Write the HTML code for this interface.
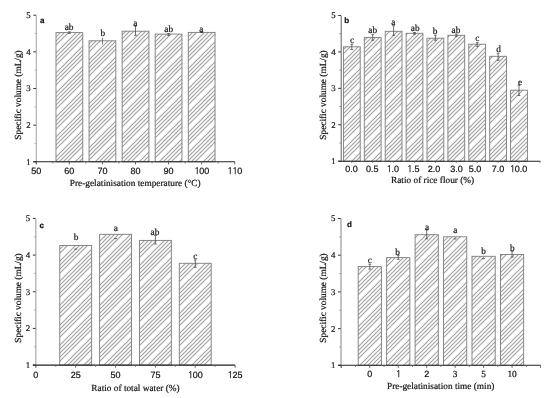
<!DOCTYPE html>
<html><head><meta charset="utf-8"><title>Specific volume figure</title>
<style>
html,body{margin:0;padding:0;background:#fff;}
body{width:550px;height:398px;overflow:hidden;}
svg{display:block;}
text{text-rendering:geometricPrecision;stroke:#111;stroke-width:0.2px;}
.lt{font-family:"Liberation Serif", "Times New Roman", serif;font-size:9.3px;fill:#111;text-anchor:middle;}
.yl{font-family:"Liberation Serif", "Times New Roman", serif;font-size:8.8px;fill:#222;text-anchor:end;}
.xs{font-family:"Liberation Sans", Arial, sans-serif;font-size:9px;fill:#111;text-anchor:middle;}
.xr{font-family:"Liberation Serif", "Times New Roman", serif;font-size:9.3px;fill:#111;text-anchor:middle;}
.xt{font-family:"Liberation Serif", "Times New Roman", serif;font-size:9.3px;fill:#111;text-anchor:middle;}
.yt{font-family:"Liberation Serif", "Times New Roman", serif;font-size:9.3px;fill:#111;text-anchor:middle;}
.one{font-family:"NanumGothic", "Liberation Sans", sans-serif;letter-spacing:-0.45px;}
.pl{font-family:"Liberation Sans", Arial, sans-serif;font-size:8px;font-weight:bold;fill:#111;}
</style></head>
<body>
<svg width="550" height="398" viewBox="0 0 550 398">
<rect width="550" height="398" fill="#fff"/>
<clipPath id="clipa"><rect x="55.97" y="32.6" width="26.8" height="129.2"/><rect x="89.04" y="40.8" width="26.8" height="121"/><rect x="122.11" y="31.2" width="26.8" height="130.6"/><rect x="155.18" y="34.1" width="26.8" height="127.7"/><rect x="188.25" y="32.4" width="26.8" height="129.4"/></clipPath>
<g clip-path="url(#clipa)"><path d="M-77.8 162.8L54.8 30.2M-73.8 162.8L58.8 30.2M-69.8 162.8L62.8 30.2M-65.8 162.8L66.8 30.2M-61.8 162.8L70.8 30.2M-53.8 162.8L78.8 30.2M-49.8 162.8L82.8 30.2M-45.8 162.8L86.8 30.2M-41.8 162.8L90.8 30.2M-33.8 162.8L98.8 30.2M-29.8 162.8L102.8 30.2M-25.8 162.8L106.8 30.2M-21.8 162.8L110.8 30.2M-13.8 162.8L118.8 30.2M-9.8 162.8L122.8 30.2M-5.8 162.8L126.8 30.2M-1.8 162.8L130.8 30.2M2.2 162.8L134.8 30.2M10.2 162.8L142.8 30.2M14.2 162.8L146.8 30.2M18.2 162.8L150.8 30.2M22.2 162.8L154.8 30.2M30.2 162.8L162.8 30.2M34.2 162.8L166.8 30.2M38.2 162.8L170.8 30.2M42.2 162.8L174.8 30.2M50.2 162.8L182.8 30.2M54.2 162.8L186.8 30.2M58.2 162.8L190.8 30.2M62.2 162.8L194.8 30.2M66.2 162.8L198.8 30.2M74.2 162.8L206.8 30.2M78.2 162.8L210.8 30.2M82.2 162.8L214.8 30.2M86.2 162.8L218.8 30.2M94.2 162.8L226.8 30.2M98.2 162.8L230.8 30.2M102.2 162.8L234.8 30.2M106.2 162.8L238.8 30.2M114.2 162.8L246.8 30.2M118.2 162.8L250.8 30.2M122.2 162.8L254.8 30.2M126.2 162.8L258.8 30.2M130.2 162.8L262.8 30.2M138.2 162.8L270.8 30.2M142.2 162.8L274.8 30.2M146.2 162.8L278.8 30.2M150.2 162.8L282.8 30.2M158.2 162.8L290.8 30.2M162.2 162.8L294.8 30.2M166.2 162.8L298.8 30.2M170.2 162.8L302.8 30.2M178.2 162.8L310.8 30.2M182.2 162.8L314.8 30.2M186.2 162.8L318.8 30.2M190.2 162.8L322.8 30.2M194.2 162.8L326.8 30.2M202.2 162.8L334.8 30.2M206.2 162.8L338.8 30.2M210.2 162.8L342.8 30.2M214.2 162.8L346.8 30.2" stroke="#a0a0a0" stroke-width="1.1" fill="none"/></g>
<rect x="55.97" y="32.6" width="26.8" height="129.2" fill="none" stroke="#7c7c7c" stroke-width="0.9"/>
<rect x="89.04" y="40.8" width="26.8" height="121" fill="none" stroke="#7c7c7c" stroke-width="0.9"/>
<rect x="122.11" y="31.2" width="26.8" height="130.6" fill="none" stroke="#7c7c7c" stroke-width="0.9"/>
<rect x="155.18" y="34.1" width="26.8" height="127.7" fill="none" stroke="#7c7c7c" stroke-width="0.9"/>
<rect x="188.25" y="32.4" width="26.8" height="129.4" fill="none" stroke="#7c7c7c" stroke-width="0.9"/>
<path d="M69.37 31.8V33.4M67.97 31.8H70.77M67.97 33.4H70.77" stroke="#444" stroke-width="0.75" fill="none"/>
<text x="69.1" y="30.2" class="lt">ab</text>
<path d="M102.44 37.9V44.5" stroke="#444" stroke-width="0.75" fill="none"/>
<text x="102.75" y="36.3" class="lt">b</text>
<path d="M135.51 26V35.3M134.11 26H136.91M134.11 35.3H136.91" stroke="#444" stroke-width="0.75" fill="none"/>
<text x="135.25" y="26.1" class="lt">a</text>
<path d="M168.58 33.6V35.4M167.18 33.6H169.98M167.18 35.4H169.98" stroke="#444" stroke-width="0.75" fill="none"/>
<text x="168.75" y="31.5" class="lt">ab</text>
<path d="M200.25 32.5H203.05" stroke="#444" stroke-width="0.9" fill="none"/>
<text x="201.2" y="32.2" class="lt">a</text>
<path d="M36.3 15.2V164.3" stroke="#a8a8a8" stroke-width="1.1" fill="none"/>
<path d="M33.3 161.8H36" stroke="#333" stroke-width="1"/>
<text x="30.7" y="164.7" class="yl">1</text>
<path d="M33.3 125.15H36" stroke="#333" stroke-width="1"/>
<text x="30.7" y="128.05" class="yl">2</text>
<path d="M33.3 88.5H36" stroke="#333" stroke-width="1"/>
<text x="30.7" y="91.4" class="yl">3</text>
<path d="M33.3 51.85H36" stroke="#333" stroke-width="1"/>
<text x="30.7" y="54.75" class="yl">4</text>
<path d="M33.3 15.2H36" stroke="#333" stroke-width="1"/>
<text x="30.7" y="18.1" class="yl">5</text>
<path d="M34.5 143.48H36.3" stroke="#a8a8a8" stroke-width="0.8"/>
<path d="M34.5 106.83H36.3" stroke="#a8a8a8" stroke-width="0.8"/>
<path d="M34.5 70.17H36.3" stroke="#a8a8a8" stroke-width="0.8"/>
<path d="M34.5 33.52H36.3" stroke="#a8a8a8" stroke-width="0.8"/>
<path d="M33.3 161.8H234.72" stroke="#222" stroke-width="1.1" fill="none"/>
<path d="M36.3 161.8V164.4" stroke="#555" stroke-width="0.9"/>
<path d="M52.83 161.8V163.4" stroke="#555" stroke-width="0.9"/>
<path d="M69.37 161.8V164.4" stroke="#555" stroke-width="0.9"/>
<path d="M85.91 161.8V163.4" stroke="#555" stroke-width="0.9"/>
<path d="M102.44 161.8V164.4" stroke="#555" stroke-width="0.9"/>
<path d="M118.97 161.8V163.4" stroke="#555" stroke-width="0.9"/>
<path d="M135.51 161.8V164.4" stroke="#555" stroke-width="0.9"/>
<path d="M152.05 161.8V163.4" stroke="#555" stroke-width="0.9"/>
<path d="M168.58 161.8V164.4" stroke="#555" stroke-width="0.9"/>
<path d="M185.12 161.8V163.4" stroke="#555" stroke-width="0.9"/>
<path d="M201.65 161.8V164.4" stroke="#555" stroke-width="0.9"/>
<path d="M218.19 161.8V163.4" stroke="#555" stroke-width="0.9"/>
<path d="M234.72 161.8V164.4" stroke="#555" stroke-width="0.9"/>
<text x="36.3" y="174" class="xs">50</text>
<text x="69.37" y="174" class="xs">60</text>
<text x="102.44" y="174" class="xs">70</text>
<text x="135.51" y="174" class="xs">80</text>
<text x="168.58" y="174" class="xs">90</text>
<text x="201.65" y="174" class="xs"><tspan class="one">1</tspan>00</text>
<text x="234.72" y="174" class="xs"><tspan class="one">1</tspan><tspan class="one">1</tspan>0</text>
<text x="135.2" y="185.9" class="xt">Pre-gelatinisation temperature (°C)</text>
<text transform="translate(21.1 95) rotate(-90)" class="yt">Specific volume (mL/g)</text>
<text x="40" y="23" class="pl">a</text>
<clipPath id="clipb"><rect x="343.4" y="46.8" width="16.8" height="114.4"/><rect x="364.3" y="37.4" width="16.8" height="123.8"/><rect x="385.2" y="31.3" width="16.8" height="129.9"/><rect x="406.1" y="33.3" width="16.8" height="127.9"/><rect x="427" y="38.2" width="16.8" height="123"/><rect x="447.9" y="35.3" width="16.8" height="125.9"/><rect x="468.8" y="44.2" width="16.8" height="117"/><rect x="489.7" y="56.3" width="16.8" height="104.9"/><rect x="510.6" y="90.2" width="16.8" height="71"/></clipPath>
<g clip-path="url(#clipb)"><path d="M206.8 162.2L338.7 30.3M210.8 162.2L342.7 30.3M214.8 162.2L346.7 30.3M222.8 162.2L354.7 30.3M226.8 162.2L358.7 30.3M230.8 162.2L362.7 30.3M234.8 162.2L366.7 30.3M242.8 162.2L374.7 30.3M246.8 162.2L378.7 30.3M250.8 162.2L382.7 30.3M254.8 162.2L386.7 30.3M258.8 162.2L390.7 30.3M266.8 162.2L398.7 30.3M270.8 162.2L402.7 30.3M274.8 162.2L406.7 30.3M278.8 162.2L410.7 30.3M286.8 162.2L418.7 30.3M290.8 162.2L422.7 30.3M294.8 162.2L426.7 30.3M298.8 162.2L430.7 30.3M306.8 162.2L438.7 30.3M310.8 162.2L442.7 30.3M314.8 162.2L446.7 30.3M318.8 162.2L450.7 30.3M322.8 162.2L454.7 30.3M330.8 162.2L462.7 30.3M334.8 162.2L466.7 30.3M338.8 162.2L470.7 30.3M342.8 162.2L474.7 30.3M350.8 162.2L482.7 30.3M354.8 162.2L486.7 30.3M358.8 162.2L490.7 30.3M362.8 162.2L494.7 30.3M370.8 162.2L502.7 30.3M374.8 162.2L506.7 30.3M378.8 162.2L510.7 30.3M382.8 162.2L514.7 30.3M386.8 162.2L518.7 30.3M394.8 162.2L526.7 30.3M398.8 162.2L530.7 30.3M402.8 162.2L534.7 30.3M406.8 162.2L538.7 30.3M414.8 162.2L546.7 30.3M418.8 162.2L550.7 30.3M422.8 162.2L554.7 30.3M426.8 162.2L558.7 30.3M434.8 162.2L566.7 30.3M438.8 162.2L570.7 30.3M442.8 162.2L574.7 30.3M446.8 162.2L578.7 30.3M450.8 162.2L582.7 30.3M458.8 162.2L590.7 30.3M462.8 162.2L594.7 30.3M466.8 162.2L598.7 30.3M470.8 162.2L602.7 30.3M478.8 162.2L610.7 30.3M482.8 162.2L614.7 30.3M486.8 162.2L618.7 30.3M490.8 162.2L622.7 30.3M498.8 162.2L630.7 30.3M502.8 162.2L634.7 30.3M506.8 162.2L638.7 30.3M510.8 162.2L642.7 30.3M514.8 162.2L646.7 30.3M522.8 162.2L654.7 30.3M526.8 162.2L658.7 30.3M530.8 162.2L662.7 30.3" stroke="#a0a0a0" stroke-width="1.1" fill="none"/></g>
<rect x="343.4" y="46.8" width="16.8" height="114.4" fill="none" stroke="#7c7c7c" stroke-width="0.9"/>
<rect x="364.3" y="37.4" width="16.8" height="123.8" fill="none" stroke="#7c7c7c" stroke-width="0.9"/>
<rect x="385.2" y="31.3" width="16.8" height="129.9" fill="none" stroke="#7c7c7c" stroke-width="0.9"/>
<rect x="406.1" y="33.3" width="16.8" height="127.9" fill="none" stroke="#7c7c7c" stroke-width="0.9"/>
<rect x="427" y="38.2" width="16.8" height="123" fill="none" stroke="#7c7c7c" stroke-width="0.9"/>
<rect x="447.9" y="35.3" width="16.8" height="125.9" fill="none" stroke="#7c7c7c" stroke-width="0.9"/>
<rect x="468.8" y="44.2" width="16.8" height="117" fill="none" stroke="#7c7c7c" stroke-width="0.9"/>
<rect x="489.7" y="56.3" width="16.8" height="104.9" fill="none" stroke="#7c7c7c" stroke-width="0.9"/>
<rect x="510.6" y="90.2" width="16.8" height="71" fill="none" stroke="#7c7c7c" stroke-width="0.9"/>
<path d="M351.8 44.3V49.4M350.4 44.3H353.2M350.4 49.4H353.2" stroke="#444" stroke-width="0.75" fill="none"/>
<text x="352" y="42.5" class="lt">c</text>
<path d="M372.7 34.3V40.2M371.3 34.3H374.1M371.3 40.2H374.1" stroke="#444" stroke-width="0.75" fill="none"/>
<text x="372.65" y="32.9" class="lt">ab</text>
<path d="M393.6 25.8V35.4M392.2 25.8H395M392.2 35.4H395" stroke="#444" stroke-width="0.75" fill="none"/>
<text x="393.4" y="25.3" class="lt">a</text>
<path d="M414.5 32.5V34.2M413.1 32.5H415.9M413.1 34.2H415.9" stroke="#444" stroke-width="0.75" fill="none"/>
<text x="415.2" y="30.5" class="lt">ab</text>
<path d="M435.4 35.3V40.2M434 35.3H436.8M434 40.2H436.8" stroke="#444" stroke-width="0.75" fill="none"/>
<text x="435.1" y="33.7" class="lt">b</text>
<path d="M456.3 34V36.3M454.9 34H457.7M454.9 36.3H457.7" stroke="#444" stroke-width="0.75" fill="none"/>
<text x="456" y="32.7" class="lt">ab</text>
<path d="M477.2 42.6V46.4M475.8 42.6H478.6M475.8 46.4H478.6" stroke="#444" stroke-width="0.75" fill="none"/>
<text x="477.35" y="40.8" class="lt">c</text>
<path d="M498.1 53.3V60.3M496.7 53.3H499.5M496.7 60.3H499.5" stroke="#444" stroke-width="0.75" fill="none"/>
<text x="498.5" y="52.3" class="lt">d</text>
<path d="M519 85V95.5M517.6 85H520.4M517.6 95.5H520.4" stroke="#444" stroke-width="0.75" fill="none"/>
<text x="520.1" y="84.6" class="lt">e</text>
<path d="M341.2 15.5V161.7" stroke="#707070" stroke-width="1.1" fill="none"/>
<path d="M338.2 161.2H340.9" stroke="#333" stroke-width="1"/>
<text x="335.6" y="164.1" class="yl">1</text>
<path d="M338.2 124.77H340.9" stroke="#333" stroke-width="1"/>
<text x="335.6" y="127.67" class="yl">2</text>
<path d="M338.2 88.35H340.9" stroke="#333" stroke-width="1"/>
<text x="335.6" y="91.25" class="yl">3</text>
<path d="M338.2 51.92H340.9" stroke="#333" stroke-width="1"/>
<text x="335.6" y="54.82" class="yl">4</text>
<path d="M338.2 15.5H340.9" stroke="#333" stroke-width="1"/>
<text x="335.6" y="18.4" class="yl">5</text>
<path d="M339.4 142.99H341.2" stroke="#707070" stroke-width="0.8"/>
<path d="M339.4 106.56H341.2" stroke="#707070" stroke-width="0.8"/>
<path d="M339.4 70.14H341.2" stroke="#707070" stroke-width="0.8"/>
<path d="M339.4 33.71H341.2" stroke="#707070" stroke-width="0.8"/>
<path d="M338.2 161.2H540.2" stroke="#222" stroke-width="1.1" fill="none"/>
<path d="M351.8 161.2V162.8" stroke="#555" stroke-width="0.9"/>
<path d="M372.7 161.2V162.8" stroke="#555" stroke-width="0.9"/>
<path d="M393.6 161.2V162.8" stroke="#555" stroke-width="0.9"/>
<path d="M414.5 161.2V162.8" stroke="#555" stroke-width="0.9"/>
<path d="M435.4 161.2V162.8" stroke="#555" stroke-width="0.9"/>
<path d="M456.3 161.2V162.8" stroke="#555" stroke-width="0.9"/>
<path d="M477.2 161.2V162.8" stroke="#555" stroke-width="0.9"/>
<path d="M498.1 161.2V162.8" stroke="#555" stroke-width="0.9"/>
<path d="M519 161.2V162.8" stroke="#555" stroke-width="0.9"/>
<path d="M540 161.2V162.8" stroke="#555" stroke-width="0.9"/>
<text x="351.4" y="172.3" class="xs">0.0</text>
<text x="372.3" y="172.3" class="xs">0.5</text>
<text x="392.7" y="172.3" class="xs"><tspan class="one">1</tspan>.0</text>
<text x="413.2" y="172.3" class="xs"><tspan class="one">1</tspan>.5</text>
<text x="434.1" y="172.3" class="xs">2.0</text>
<text x="456.5" y="172.3" class="xs">3.0</text>
<text x="475.1" y="172.3" class="xs">5.0</text>
<text x="498" y="172.3" class="xs">7.0</text>
<text x="518.5" y="172.3" class="xs"><tspan class="one">1</tspan>0.0</text>
<text x="432.6" y="182.6" class="xt">Ratio of rice flour (%)</text>
<text transform="translate(326 95) rotate(-90)" class="yt">Specific volume (mL/g)</text>
<text x="344.2" y="22.6" class="pl">b</text>
<clipPath id="clipc"><rect x="59.76" y="245.5" width="31.88" height="119.6"/><rect x="99.61" y="234.3" width="31.88" height="130.8"/><rect x="139.46" y="240.4" width="31.88" height="124.7"/><rect x="179.31" y="263.3" width="31.88" height="101.8"/></clipPath>
<g clip-path="url(#clipc)"><path d="M-77.1 366.1L55.7 233.3M-73.1 366.1L59.7 233.3M-65.1 366.1L67.7 233.3M-61.1 366.1L71.7 233.3M-57.1 366.1L75.7 233.3M-53.1 366.1L79.7 233.3M-45.1 366.1L87.7 233.3M-41.1 366.1L91.7 233.3M-37.1 366.1L95.7 233.3M-33.1 366.1L99.7 233.3M-25.1 366.1L107.7 233.3M-21.1 366.1L111.7 233.3M-17.1 366.1L115.7 233.3M-13.1 366.1L119.7 233.3M-9.1 366.1L123.7 233.3M-1.1 366.1L131.7 233.3M2.9 366.1L135.7 233.3M6.9 366.1L139.7 233.3M10.9 366.1L143.7 233.3M18.9 366.1L151.7 233.3M22.9 366.1L155.7 233.3M26.9 366.1L159.7 233.3M30.9 366.1L163.7 233.3M38.9 366.1L171.7 233.3M42.9 366.1L175.7 233.3M46.9 366.1L179.7 233.3M50.9 366.1L183.7 233.3M54.9 366.1L187.7 233.3M62.9 366.1L195.7 233.3M66.9 366.1L199.7 233.3M70.9 366.1L203.7 233.3M74.9 366.1L207.7 233.3M82.9 366.1L215.7 233.3M86.9 366.1L219.7 233.3M90.9 366.1L223.7 233.3M94.9 366.1L227.7 233.3M102.9 366.1L235.7 233.3M106.9 366.1L239.7 233.3M110.9 366.1L243.7 233.3M114.9 366.1L247.7 233.3M118.9 366.1L251.7 233.3M126.9 366.1L259.7 233.3M130.9 366.1L263.7 233.3M134.9 366.1L267.7 233.3M138.9 366.1L271.7 233.3M146.9 366.1L279.7 233.3M150.9 366.1L283.7 233.3M154.9 366.1L287.7 233.3M158.9 366.1L291.7 233.3M166.9 366.1L299.7 233.3M170.9 366.1L303.7 233.3M174.9 366.1L307.7 233.3M178.9 366.1L311.7 233.3M182.9 366.1L315.7 233.3M190.9 366.1L323.7 233.3M194.9 366.1L327.7 233.3M198.9 366.1L331.7 233.3M202.9 366.1L335.7 233.3M210.9 366.1L343.7 233.3M214.9 366.1L347.7 233.3" stroke="#a0a0a0" stroke-width="1.1" fill="none"/></g>
<rect x="59.76" y="245.5" width="31.88" height="119.6" fill="none" stroke="#7c7c7c" stroke-width="0.9"/>
<rect x="99.61" y="234.3" width="31.88" height="130.8" fill="none" stroke="#7c7c7c" stroke-width="0.9"/>
<rect x="139.46" y="240.4" width="31.88" height="124.7" fill="none" stroke="#7c7c7c" stroke-width="0.9"/>
<rect x="179.31" y="263.3" width="31.88" height="101.8" fill="none" stroke="#7c7c7c" stroke-width="0.9"/>
<path d="M74.3 249.1H77.1" stroke="#444" stroke-width="0.9" fill="none"/>
<text x="76.1" y="240.4" class="lt">b</text>
<path d="M114.15 238.6H116.95" stroke="#444" stroke-width="0.9" fill="none"/>
<text x="115.7" y="230.5" class="lt">a</text>
<path d="M155.4 235.3V244M154 235.3H156.8M154 244H156.8" stroke="#444" stroke-width="0.75" fill="none"/>
<text x="155" y="235.3" class="lt">ab</text>
<path d="M195.25 260V267.3M193.85 260H196.65M193.85 267.3H196.65" stroke="#444" stroke-width="0.75" fill="none"/>
<text x="195.25" y="259" class="lt">c</text>
<path d="M35.85 218.4V367.6" stroke="#a0a0a0" stroke-width="1.1" fill="none"/>
<path d="M32.85 365.1H35.55" stroke="#333" stroke-width="1"/>
<text x="30.25" y="368" class="yl">1</text>
<path d="M32.85 328.43H35.55" stroke="#333" stroke-width="1"/>
<text x="30.25" y="331.32" class="yl">2</text>
<path d="M32.85 291.75H35.55" stroke="#333" stroke-width="1"/>
<text x="30.25" y="294.65" class="yl">3</text>
<path d="M32.85 255.08H35.55" stroke="#333" stroke-width="1"/>
<text x="30.25" y="257.98" class="yl">4</text>
<path d="M32.85 218.4H35.55" stroke="#333" stroke-width="1"/>
<text x="30.25" y="221.3" class="yl">5</text>
<path d="M34.05 346.76H35.85" stroke="#a0a0a0" stroke-width="0.8"/>
<path d="M34.05 310.09H35.85" stroke="#a0a0a0" stroke-width="0.8"/>
<path d="M34.05 273.41H35.85" stroke="#a0a0a0" stroke-width="0.8"/>
<path d="M34.05 236.74H35.85" stroke="#a0a0a0" stroke-width="0.8"/>
<path d="M32.85 365.1H235.1" stroke="#222" stroke-width="1.1" fill="none"/>
<path d="M35.85 365.1V367.7" stroke="#555" stroke-width="0.9"/>
<path d="M55.78 365.1V366.7" stroke="#555" stroke-width="0.9"/>
<path d="M75.7 365.1V367.7" stroke="#555" stroke-width="0.9"/>
<path d="M95.62 365.1V366.7" stroke="#555" stroke-width="0.9"/>
<path d="M115.55 365.1V367.7" stroke="#555" stroke-width="0.9"/>
<path d="M135.47 365.1V366.7" stroke="#555" stroke-width="0.9"/>
<path d="M155.4 365.1V367.7" stroke="#555" stroke-width="0.9"/>
<path d="M175.32 365.1V366.7" stroke="#555" stroke-width="0.9"/>
<path d="M195.25 365.1V367.7" stroke="#555" stroke-width="0.9"/>
<path d="M215.18 365.1V366.7" stroke="#555" stroke-width="0.9"/>
<path d="M235.1 365.1V367.7" stroke="#555" stroke-width="0.9"/>
<text x="35.85" y="377.5" class="xs">0</text>
<text x="75.7" y="377.5" class="xs">25</text>
<text x="115.55" y="377.5" class="xs">50</text>
<text x="155.4" y="377.5" class="xs">75</text>
<text x="195.25" y="377.5" class="xs"><tspan class="one">1</tspan>00</text>
<text x="235.1" y="377.5" class="xs"><tspan class="one">1</tspan>25</text>
<text x="135.5" y="390.6" class="xt">Ratio of total water (%)</text>
<text transform="translate(20.9 298) rotate(-90)" class="yt">Specific volume (mL/g)</text>
<text x="39.6" y="228.3" class="pl">c</text>
<clipPath id="clipd"><rect x="358.2" y="266.6" width="23.2" height="98.7"/><rect x="386.65" y="257.6" width="23.2" height="107.7"/><rect x="415.1" y="234.7" width="23.2" height="130.6"/><rect x="443.55" y="236.8" width="23.2" height="128.5"/><rect x="472" y="256.3" width="23.2" height="109"/><rect x="500.45" y="254.5" width="23.2" height="110.8"/></clipPath>
<g clip-path="url(#clipd)"><path d="M222.7 366.3L355.3 233.7M230.7 366.3L363.3 233.7M234.7 366.3L367.3 233.7M238.7 366.3L371.3 233.7M242.7 366.3L375.3 233.7M246.7 366.3L379.3 233.7M254.7 366.3L387.3 233.7M258.7 366.3L391.3 233.7M262.7 366.3L395.3 233.7M266.7 366.3L399.3 233.7M274.7 366.3L407.3 233.7M278.7 366.3L411.3 233.7M282.7 366.3L415.3 233.7M286.7 366.3L419.3 233.7M294.7 366.3L427.3 233.7M298.7 366.3L431.3 233.7M302.7 366.3L435.3 233.7M306.7 366.3L439.3 233.7M310.7 366.3L443.3 233.7M318.7 366.3L451.3 233.7M322.7 366.3L455.3 233.7M326.7 366.3L459.3 233.7M330.7 366.3L463.3 233.7M338.7 366.3L471.3 233.7M342.7 366.3L475.3 233.7M346.7 366.3L479.3 233.7M350.7 366.3L483.3 233.7M358.7 366.3L491.3 233.7M362.7 366.3L495.3 233.7M366.7 366.3L499.3 233.7M370.7 366.3L503.3 233.7M374.7 366.3L507.3 233.7M382.7 366.3L515.3 233.7M386.7 366.3L519.3 233.7M390.7 366.3L523.3 233.7M394.7 366.3L527.3 233.7M402.7 366.3L535.3 233.7M406.7 366.3L539.3 233.7M410.7 366.3L543.3 233.7M414.7 366.3L547.3 233.7M422.7 366.3L555.3 233.7M426.7 366.3L559.3 233.7M430.7 366.3L563.3 233.7M434.7 366.3L567.3 233.7M438.7 366.3L571.3 233.7M446.7 366.3L579.3 233.7M450.7 366.3L583.3 233.7M454.7 366.3L587.3 233.7M458.7 366.3L591.3 233.7M466.7 366.3L599.3 233.7M470.7 366.3L603.3 233.7M474.7 366.3L607.3 233.7M478.7 366.3L611.3 233.7M486.7 366.3L619.3 233.7M490.7 366.3L623.3 233.7M494.7 366.3L627.3 233.7M498.7 366.3L631.3 233.7M502.7 366.3L635.3 233.7M510.7 366.3L643.3 233.7M514.7 366.3L647.3 233.7M518.7 366.3L651.3 233.7M522.7 366.3L655.3 233.7" stroke="#a0a0a0" stroke-width="1.1" fill="none"/></g>
<rect x="358.2" y="266.6" width="23.2" height="98.7" fill="none" stroke="#7c7c7c" stroke-width="0.9"/>
<rect x="386.65" y="257.6" width="23.2" height="107.7" fill="none" stroke="#7c7c7c" stroke-width="0.9"/>
<rect x="415.1" y="234.7" width="23.2" height="130.6" fill="none" stroke="#7c7c7c" stroke-width="0.9"/>
<rect x="443.55" y="236.8" width="23.2" height="128.5" fill="none" stroke="#7c7c7c" stroke-width="0.9"/>
<rect x="472" y="256.3" width="23.2" height="109" fill="none" stroke="#7c7c7c" stroke-width="0.9"/>
<rect x="500.45" y="254.5" width="23.2" height="110.8" fill="none" stroke="#7c7c7c" stroke-width="0.9"/>
<path d="M369.8 264.2V269.1M368.4 264.2H371.2M368.4 269.1H371.2" stroke="#444" stroke-width="0.75" fill="none"/>
<text x="369.8" y="262.9" class="lt">c</text>
<path d="M398.25 255.2V259.3M396.85 255.2H399.65M396.85 259.3H399.65" stroke="#444" stroke-width="0.75" fill="none"/>
<text x="397.7" y="254.7" class="lt">b</text>
<path d="M426.7 229.8V238.8M425.3 229.8H428.1M425.3 238.8H428.1" stroke="#444" stroke-width="0.75" fill="none"/>
<text x="427" y="230.1" class="lt">a</text>
<path d="M453.75 238.9H456.55" stroke="#444" stroke-width="0.9" fill="none"/>
<text x="455.3" y="233" class="lt">a</text>
<path d="M482.2 258.7H485" stroke="#444" stroke-width="0.9" fill="none"/>
<text x="483.65" y="254" class="lt">b</text>
<path d="M512.05 251.1V257.1M510.65 251.1H513.45M510.65 257.1H513.45" stroke="#444" stroke-width="0.75" fill="none"/>
<text x="512.45" y="250.7" class="lt">b</text>
<path d="M341 218.5V367.8" stroke="#909090" stroke-width="1.1" fill="none"/>
<path d="M338 365.3H340.7" stroke="#333" stroke-width="1"/>
<text x="335.4" y="368.2" class="yl">1</text>
<path d="M338 328.6H340.7" stroke="#333" stroke-width="1"/>
<text x="335.4" y="331.5" class="yl">2</text>
<path d="M338 291.9H340.7" stroke="#333" stroke-width="1"/>
<text x="335.4" y="294.8" class="yl">3</text>
<path d="M338 255.2H340.7" stroke="#333" stroke-width="1"/>
<text x="335.4" y="258.1" class="yl">4</text>
<path d="M338 218.5H340.7" stroke="#333" stroke-width="1"/>
<text x="335.4" y="221.4" class="yl">5</text>
<path d="M339.2 346.95H341" stroke="#909090" stroke-width="0.8"/>
<path d="M339.2 310.25H341" stroke="#909090" stroke-width="0.8"/>
<path d="M339.2 273.55H341" stroke="#909090" stroke-width="0.8"/>
<path d="M339.2 236.85H341" stroke="#909090" stroke-width="0.8"/>
<path d="M338 365.3H540.5" stroke="#222" stroke-width="1.1" fill="none"/>
<path d="M341.35 365.3V367.9" stroke="#555" stroke-width="0.9"/>
<path d="M355.57 365.3V366.9" stroke="#555" stroke-width="0.9"/>
<path d="M369.8 365.3V367.9" stroke="#555" stroke-width="0.9"/>
<path d="M384.03 365.3V366.9" stroke="#555" stroke-width="0.9"/>
<path d="M398.25 365.3V367.9" stroke="#555" stroke-width="0.9"/>
<path d="M412.48 365.3V366.9" stroke="#555" stroke-width="0.9"/>
<path d="M426.7 365.3V367.9" stroke="#555" stroke-width="0.9"/>
<path d="M440.93 365.3V366.9" stroke="#555" stroke-width="0.9"/>
<path d="M455.15 365.3V367.9" stroke="#555" stroke-width="0.9"/>
<path d="M469.38 365.3V366.9" stroke="#555" stroke-width="0.9"/>
<path d="M483.6 365.3V367.9" stroke="#555" stroke-width="0.9"/>
<path d="M497.83 365.3V366.9" stroke="#555" stroke-width="0.9"/>
<path d="M512.05 365.3V367.9" stroke="#555" stroke-width="0.9"/>
<path d="M526.27 365.3V366.9" stroke="#555" stroke-width="0.9"/>
<path d="M540.5 365.3V367.9" stroke="#555" stroke-width="0.9"/>
<text x="369.8" y="377.1" class="xs">0</text>
<text x="398.25" y="377.1" class="xs"><tspan class="one">1</tspan></text>
<text x="426.7" y="377.1" class="xs">2</text>
<text x="455.15" y="377.1" class="xr">3</text>
<text x="483.6" y="377.1" class="xr">5</text>
<text x="512.05" y="377.1" class="xr">10</text>
<text x="440.7" y="388.8" class="xt">Pre-gelatinisation time (min)</text>
<text transform="translate(326 298) rotate(-90)" class="yt">Specific volume (mL/g)</text>
<text x="347" y="226.8" class="pl">d</text>
</svg>
</body></html>
